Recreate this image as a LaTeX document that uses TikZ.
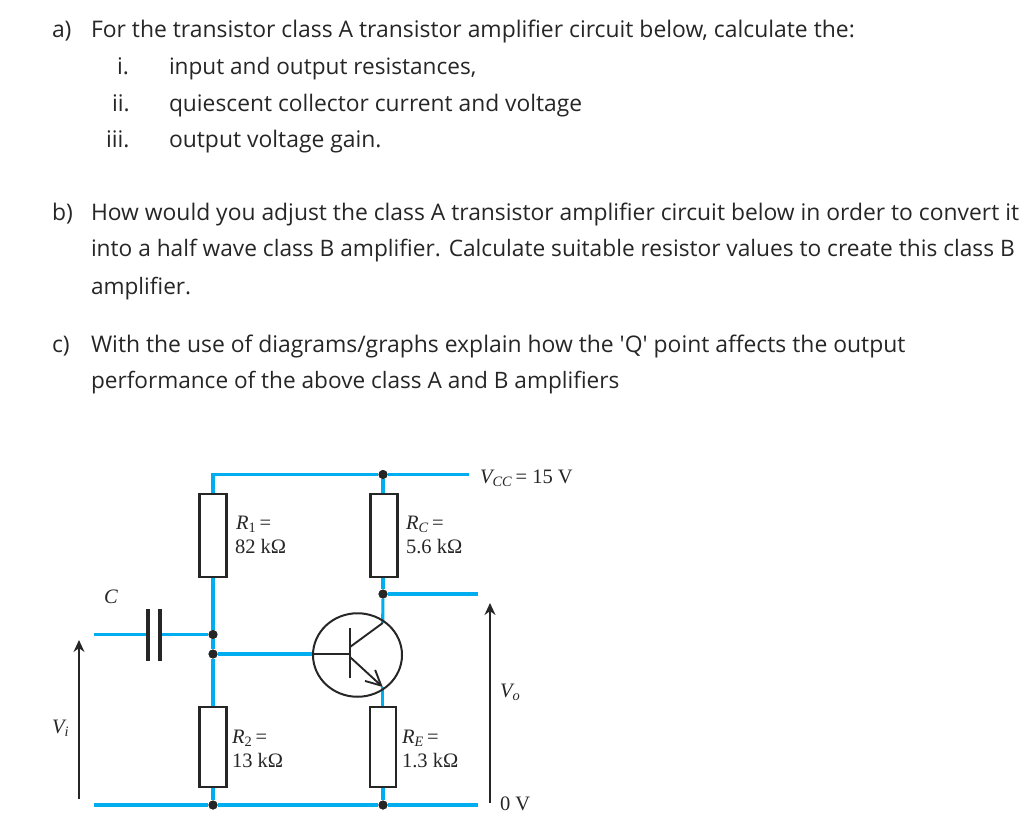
\documentclass[tikz,border=0pt]{standalone}
\usepackage{fontspec}
\newfontfamily\qfont{Open Sans}
\newfontfamily\circfont{Liberation Serif}
\usetikzlibrary{arrows.meta,shapes.geometric}
\definecolor{wirecol}{HTML}{00AEEF}
\definecolor{inkcol}{HTML}{262626}
\definecolor{txtcol}{HTML}{262626}
\newcommand{\qs}[1]{\fontsize{#1}{26}\selectfont}
\tikzset{
  qtext/.style={anchor=base west,inner sep=0pt,outer sep=0pt,text=txtcol,font=\qfont\fontsize{22.9}{26}\selectfont},
  clabel/.style={anchor=base west,inner sep=0pt,outer sep=0pt,text=inkcol,font=\circfont\fontsize{20.5}{22}\selectfont},
  wire/.style={draw=wirecol,line width=3.1pt},
  thin black/.style={draw=inkcol,line width=1.9pt},
  resbox/.style={draw=inkcol,fill=white,line width=2.7pt,rectangle,inner sep=0pt,minimum width=27pt,minimum height=83pt},
  dotn/.style={circle,fill=inkcol,inner sep=0pt,minimum size=9pt},
  volt/.style={draw=inkcol,line width=1.6pt,-{Stealth[length=12pt,width=11pt]}},
}
\begin{document}
\begin{tikzpicture}[x=1pt,y=-1pt]
\useasboundingbox (0,0) rectangle (1030,827);
% question text
\node[qtext] (t1) at (52,37) {a)};
\node[qtext] (t2) at (91,37) {For the transistor class A transistor amplifier circuit below, calculate the:};
\node[qtext] (t3) at (117,74) {i.};
\node[qtext,font=\qfont\qs{22.6}] (t4) at (169,74) {input and output resistances,};
\node[qtext] (t5) at (112,111) {ii.};
\node[qtext,font=\qfont\qs{22.8}] (t6) at (169,111) {quiescent collector current and voltage};
\node[qtext] (t7) at (106,147) {iii.};
\node[qtext] (t8) at (169,147) {output voltage gain.};
\node[qtext] (t9) at (52,220) {b)};
\node[qtext,font=\qfont\qs{22.85}] (t10) at (91,220) {How would you adjust the class A transistor amplifier circuit below in order to convert it};
\node[qtext,font=\qfont\qs{22.7}] (t11) at (91,256) {into a half wave class B amplifier. Calculate suitable resistor values to create this class B};
\node[qtext,font=\qfont\qs{22.6}] (t12) at (91,294) {amplifier.};
\node[qtext] (t13) at (52,352) {c)};
\node[qtext] (t14) at (91,352) {With the use of diagrams/graphs explain how the 'Q' point affects the output};
\node[qtext,font=\qfont\qs{22.6}] (t15) at (91,388) {performance of the above class A and B amplifiers};
% junctions and ends
\coordinate (tl) at (213,474.5);
\node[dotn] (dtop) at (383,474.5) {};
\coordinate (vccend) at (469,474.5);
\node[dotn] (dcap) at (213,634.5) {};
\node[dotn] (dbase) at (213,654) {};
\node[dotn] (dcoll) at (383,594) {};
\coordinate (oend) at (478,594);
\coordinate (inend) at (94,634.5);
\coordinate (capl) at (148,634.5);
\coordinate (capr) at (160,634.5);
\node[dotn] (dbl) at (213,805) {};
\node[dotn] (dbr) at (383,805) {};
\coordinate (botl) at (94,805);
\coordinate (botr) at (478,805);
\coordinate (cpin) at (382.7,623);
\coordinate (epin) at (382.7,687);
\coordinate (bpin) at (313,654);
\coordinate (barb) at (350,654);
% resistors
\node[resbox] (r1) at (213,535.5) {};
\node[resbox,minimum height=80pt] (r2) at (213,747) {};
\node[resbox] (rc) at (384,535.5) {};
\node[resbox,line width=2.1pt,minimum width=26pt,minimum height=80pt] (re) at (383,747) {};
% wires
\draw[wire] (r1.north -| tl) -- (tl) -- (dtop) -- (vccend);
\draw[wire] (dtop) -- (dtop |- rc.north);
\draw[wire] (dcoll |- rc.south) -- (dcoll) -- (oend);
\draw[wire] (dcoll) -- (cpin);
\draw[wire] (epin) -- (epin |- re.north);
\draw[wire] (dbr |- re.south) -- (dbr);
\draw[wire] (r1.south) -- (dcap) -- (dbase) -- (r2.north);
\draw[wire] (r2.south) -- (dbl);
\draw[wire] (botl) -- (dbl) -- (dbr) -- (botr);
\draw[wire] (inend) -- (capl);
\draw[wire] (capr) -- (dcap);
\draw[wire] (dbase) -- (bpin);
% redraw dots over wires
\node[dotn] at (dtop) {};
\node[dotn] at (dcoll) {};
\node[dotn] at (dcap) {};
\node[dotn] at (dbase) {};
\node[dotn] at (dbl) {};
\node[dotn] at (dbr) {};
% capacitor
\draw[draw=inkcol,line width=3.4pt] (148,609) -- (capl) -- (148,661);
\draw[draw=inkcol,line width=3.4pt] (160,609) -- (capr) -- (160,661);
% transistor
\node[ellipse,draw=inkcol,line width=2pt,inner sep=0pt,minimum width=89pt,minimum height=83.5pt] (q) at (357.5,655) {};
\draw[thin black] (bpin) -- (barb);
\draw[thin black,line width=2.2pt] (350,628) -- (barb) -- (350,678);
\draw[thin black] (350,647) -- (cpin);
\draw[thin black,-{Straight Barb[length=15pt,width=15pt]}] (350,657) -- (epin);
% voltage arrows
\draw[volt] (79,799) -- (79,640);
\draw[volt] (490,803) -- (490,603);
% labels
\node[clabel] (lc) at (104,603) {\textit{C}};
\node[clabel] (lr1) at (236,529) {\textit{R}\textsubscript{1}\,=};
\node[clabel] (lr1v) at (235,553) {82 kΩ};
\node[clabel] (lrc) at (406,529) {\textit{R\textsubscript{C}}\,=};
\node[clabel] (lrcv) at (406,553) {5.6 kΩ};
\node[clabel] (lr2) at (232,743) {\textit{R}\textsubscript{2}\,=};
\node[clabel] (lr2v) at (232,767) {13 kΩ};
\node[clabel] (lre) at (402,743) {\textit{R\textsubscript{E}}\,=};
\node[clabel] (lrev) at (402,767) {1.3 kΩ};
\node[clabel] (lvcc) at (480,483) {\textit{V\textsubscript{CC}}\,= 15 V};
\node[clabel] (lvo) at (500,697) {\textit{V\textsubscript{o}}};
\node[clabel] (lvi) at (52,733) {\textit{V\textsubscript{i}}};
\node[clabel] (l0v) at (500,810) {0 V};
\end{tikzpicture}
\end{document}
